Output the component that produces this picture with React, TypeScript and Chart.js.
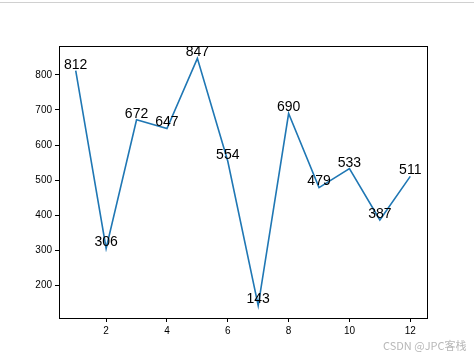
import React, { useEffect, useRef } from "react";
import { Chart, registerables } from "chart.js";

Chart.register(...registerables);

const xValues = [1, 2, 3, 4, 5, 6, 7, 8, 9, 10, 11, 12];
const yValues = [812, 306, 672, 647, 847, 554, 143, 690, 479, 533, 387, 511];
const xTicks = [2, 4, 6, 8, 10, 12];
const yTicks = [200, 300, 400, 500, 600, 700, 800];
const watermark = "CSDN @JPC客栈";

const frame = {
  id: "frame",
  afterDatasetsDraw(chart: any) {
    const { ctx, chartArea: a } = chart;
    ctx.save();
    ctx.strokeStyle = "#000";
    ctx.lineWidth = 1;
    ctx.strokeRect(Math.round(a.left) + 0.5, Math.round(a.top) + 0.5, Math.round(a.right - a.left), Math.round(a.bottom - a.top));
    ctx.restore();
  },
};

const labels = {
  id: "pointLabels",
  afterDatasetsDraw(chart: any) {
    const { ctx } = chart;
    const meta = chart.getDatasetMeta(0);
    ctx.save();
    ctx.fillStyle = "#000";
    ctx.font = "14px 'Liberation Sans', Arial, sans-serif";
    ctx.textAlign = "center";
    ctx.textBaseline = "bottom";
    meta.data.forEach((pt: any, i: number) => {
      ctx.fillText(String(yValues[i]), pt.x, pt.y + 1);
    });
    ctx.restore();
  },
};

export default function App() {
  const ref = useRef<HTMLCanvasElement>(null);
  useEffect(() => {
    if (!ref.current) return;
    const tickFont = { family: "'Liberation Sans', Arial, sans-serif", size: 10 };
    const chart = new Chart(ref.current, {
      type: "line",
      data: {
        datasets: [
          {
            data: xValues.map((x, i) => ({ x, y: yValues[i] })),
            borderColor: "#1f77b4",
            borderWidth: 1.6,
            pointRadius: 0,
            fill: false,
            tension: 0,
          },
        ],
      },
      options: {
        animation: false,
        responsive: false,
        events: [],
        layout: { padding: { left: 0, top: 46, right: 47, bottom: 0 } },
        plugins: { legend: { display: false }, tooltip: { enabled: false } },
        scales: {
          x: {
            type: "linear",
            min: 0.45,
            max: 12.55,
            afterBuildTicks: (s: any) => {
              s.ticks = xTicks.map((v) => ({ value: v }));
            },
            afterFit: (s: any) => {
              s.height = 40;
            },
            grid: { drawOnChartArea: false, drawTicks: true, tickLength: 4, color: "#000" },
            border: { display: true, color: "#000" },
            ticks: { color: "#000", font: tickFont, padding: 3, maxRotation: 0 },
          },
          y: {
            min: 107.8,
            max: 882.2,
            afterBuildTicks: (s: any) => {
              s.ticks = yTicks.map((v) => ({ value: v }));
            },
            afterFit: (s: any) => {
              s.width = 59;
            },
            grid: { drawOnChartArea: false, drawTicks: true, tickLength: 4, color: "#000" },
            border: { display: true, color: "#000" },
            ticks: { color: "#000", font: tickFont, padding: 3 },
          },
        },
      },
      plugins: [frame, labels],
    } as any);
    return () => chart.destroy();
  }, []);
  return (
    <div style={{ position: "fixed", left: 0, top: 0, width: 474, height: 358, background: "#fff" }}>
      <div style={{ position: "absolute", left: 0, top: 2, width: 474, height: 1, background: "#d0d0d0" }} />
      <canvas ref={ref} width={474} height={358} style={{ position: "absolute", left: 0, top: 0 }} />
      <div
        style={{
          position: "absolute",
          left: 383,
          top: 338,
          fontFamily: "'Noto Sans CJK SC', sans-serif",
          fontSize: 11,
          lineHeight: "14px",
          color: "#b8b8b8",
          whiteSpace: "nowrap",
        }}
      >
        {watermark}
      </div>
    </div>
  );
}
